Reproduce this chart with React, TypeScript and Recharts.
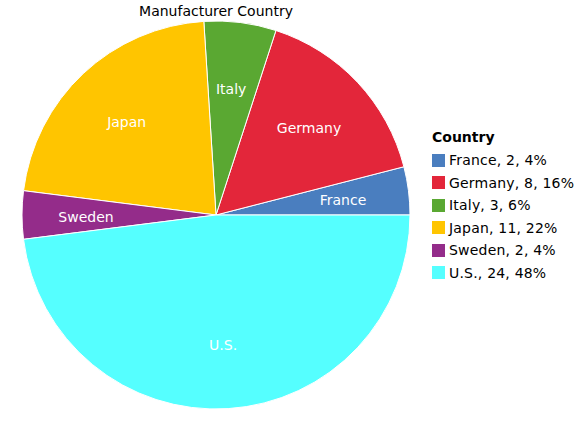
import React from 'react';
import { PieChart, Pie, Cell } from 'recharts';

const countries = ['France', 'Germany', 'Italy', 'Japan', 'Sweden', 'U.S.'];
const counts = [2, 8, 3, 11, 2, 24];
const percents = ['4%', '16%', '6%', '22%', '4%', '48%'];
const colors = ['#4A7EBF', '#E3263A', '#5AA832', '#FFC500', '#942C8A', '#55FFFF'];

const data = countries.map((name, i) => ({ name, value: counts[i] }));

const FONT = '"DejaVu Sans", Verdana, sans-serif';
const RAD = Math.PI / 180;

const renderLabel = (props: any) => {
  const { cx, cy, midAngle, outerRadius, name } = props;
  const r = outerRadius * 0.665;
  const x = cx + r * Math.cos(-midAngle * RAD) - 1;
  const y = cy + r * Math.sin(-midAngle * RAD) + 1.5;
  return (
    <text x={x} y={y} fill="#ffffff" textAnchor="middle" dominantBaseline="central"
      style={{ fontFamily: FONT, fontSize: 14 }}>
      {name}
    </text>
  );
};

export default function App() {
  return (
    <div style={{ position: 'absolute', left: 0, top: 0, width: 578, height: 429, background: '#fff', fontFamily: FONT }}>
      <div style={{ position: 'absolute', left: 0, width: 432, top: 2, textAlign: 'center', fontSize: 14, color: '#000', lineHeight: '18px' }}>
        Manufacturer Country
      </div>
      <PieChart width={578} height={429} margin={{ top: 0, right: 0, bottom: 0, left: 0 }}
        style={{ position: 'absolute', left: 0, top: 0 }}>
        <Pie data={data} dataKey="value" nameKey="name" cx={216} cy={215} outerRadius={194}
          startAngle={0} endAngle={360} stroke="#ffffff" strokeWidth={1}
          label={renderLabel} labelLine={false} isAnimationActive={false}>
          {data.map((d, i) => <Cell key={d.name} fill={colors[i]} />)}
        </Pie>
      </PieChart>
      <div style={{ position: 'absolute', left: 432, top: 128, fontSize: 14, fontWeight: 'bold', lineHeight: '18px', color: '#000' }}>Country</div>
      {countries.map((c, i) => (
        <div key={c} style={{ position: 'absolute', left: 432, top: 151 + i * 22.5, height: 18, display: 'flex', alignItems: 'center', fontSize: 14, color: '#000', lineHeight: '18px', whiteSpace: 'nowrap', letterSpacing: 0.2 }}>
          <span style={{ display: 'inline-block', width: 13, height: 13, background: colors[i], marginRight: 4 }} />
          <span>{`${c}, ${counts[i]}, ${percents[i]}`}</span>
        </div>
      ))}
    </div>
  );
}
